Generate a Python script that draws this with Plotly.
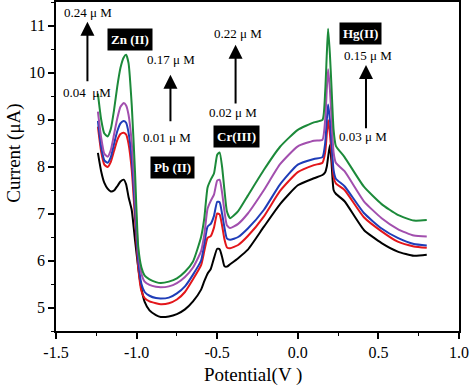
import plotly.graph_objects as go

potential = [-1.24, -1.22, -1.2, -1.18, -1.16, -1.14, -1.12, -1.1, -1.08, -1.065,
             -1.05, -1.03, -1.01, -0.99, -0.97, -0.95, -0.92, -0.88, -0.85, -0.8,
             -0.75, -0.7, -0.65, -0.6, -0.58, -0.56, -0.54, -0.52, -0.5, -0.485,
             -0.47, -0.455, -0.44, -0.42, -0.37, -0.31, -0.21, -0.11, 0.0, 0.1,
             0.153, 0.17, 0.18, 0.188, 0.199, 0.209, 0.222, 0.236, 0.29, 0.41,
             0.52, 0.62, 0.72, 0.8]

current_black = [8.29, 7.9, 7.65, 7.53, 7.47, 7.49, 7.58, 7.68, 7.72, 7.62,
                 7.35, 7.07, 6.44, 5.85, 5.4, 5.12, 4.94, 4.84, 4.8, 4.81,
                 4.86, 4.96, 5.13, 5.38, 5.56, 5.72, 5.82, 6.05, 6.25, 6.24,
                 6.08, 5.88, 5.87, 5.92, 6.05, 6.23, 6.72, 7.2, 7.6, 7.75,
                 7.82, 7.88, 8.0, 8.2, 8.46, 8.1, 7.5, 7.42, 7.26, 6.65,
                 6.37, 6.19, 6.1, 6.12]

current_red = [8.85, 8.32, 8.04, 7.99, 8.1, 8.33, 8.56, 8.69, 8.72, 8.68,
               8.48, 7.92, 6.9, 5.85, 5.35, 5.2, 5.13, 5.09, 5.07, 5.09,
               5.17, 5.33, 5.6, 5.9, 6.2, 6.48, 6.52, 6.7, 7.0, 6.98,
               6.75, 6.45, 6.28, 6.26, 6.33, 6.52, 6.94, 7.48, 7.88, 8.03,
               8.08, 8.3, 8.7, 8.99, 8.7, 8.3, 7.78, 7.64, 7.5, 6.92,
               6.62, 6.4, 6.3, 6.27]

current_blue = [8.97, 8.42, 8.13, 8.08, 8.2, 8.48, 8.75, 8.92, 8.97, 8.93,
                8.72, 8.15, 7.1, 6.0, 5.5, 5.33, 5.25, 5.2, 5.19, 5.21,
                5.3, 5.45, 5.7, 6.0, 6.35, 6.72, 6.78, 6.95, 7.25, 7.24,
                7.0, 6.7, 6.47, 6.44, 6.5, 6.68, 7.08, 7.62, 8.04, 8.16,
                8.2, 8.5, 9.0, 9.32, 9.0, 8.5, 7.92, 7.74, 7.58, 7.01,
                6.68, 6.48, 6.35, 6.32]

current_purple = [9.17, 8.62, 8.27, 8.21, 8.35, 8.68, 9.02, 9.27, 9.35, 9.3,
                  9.1, 8.5, 7.4, 6.2, 5.72, 5.55, 5.48, 5.44, 5.43, 5.45,
                  5.52, 5.65, 5.85, 6.2, 6.55, 7.1, 7.27, 7.4, 7.7, 7.72,
                  7.45, 7.05, 6.75, 6.69, 6.78, 7.0, 7.5, 8.05, 8.43, 8.55,
                  8.57, 9.0, 9.65, 10.07, 9.65, 9.05, 8.3, 8.08, 7.9, 7.26,
                  6.9, 6.67, 6.53, 6.51]

current_green = [9.55, 9.0, 8.7, 8.64, 8.8, 9.2, 9.7, 10.1, 10.32, 10.38,
                 10.2, 9.3, 7.9, 6.3, 5.85, 5.68, 5.6, 5.54, 5.52, 5.55,
                 5.62, 5.76, 5.98, 6.5, 6.9, 7.55, 7.72, 7.85, 8.25, 8.3,
                 8.0, 7.5, 7.05, 6.9, 7.05, 7.38, 7.93, 8.42, 8.78, 8.94,
                 8.99, 9.6, 10.4, 10.93, 10.4, 9.7, 8.78, 8.44, 8.2, 7.57,
                 7.2, 6.97, 6.85, 6.86]

series = [
    ("black", current_black, "#000000"),
    ("red", current_red, "#e3161b"),
    ("blue", current_blue, "#1f3db8"),
    ("purple", current_purple, "#a24fae"),
    ("green", current_green, "#1c8a3a"),
]

# arrows: (x, y_start, y_end)
arrows = [(-1.305, 9.78, 11.08), (-0.79, 8.93, 9.95), (-0.386, 9.31, 10.59), (0.423, 8.78, 10.16)]
# concentration labels: (text, x, y)
conc_labels = [
    ("0.24 \u03bc M", -1.30, 11.27),
    ("0.04\u00a0\u00a0\u03bcM", -1.31, 9.58),
    ("0.17 \u03bc M", -0.784, 10.27),
    ("0.01 \u03bc M", -0.81, 8.61),
    ("0.22 \u03bc M", -0.374, 10.84),
    ("0.02 \u03bc M", -0.405, 9.15),
    ("0.15 \u03bc M", 0.435, 10.36),
    ("0.03 \u03bc M", 0.404, 8.64),
]
# metal ion boxed labels
ion_labels = [
    ("Zn (II)", -1.04, 10.71),
    ("Pb (II)", -0.778, 7.98),
    ("Cr(III)", -0.383, 8.64),
    ("Hg(II)", 0.392, 10.83),
]

FONT = "Liberation Serif, Times New Roman, serif"

fig = go.Figure()
for name, vals, col in series:
    fig.add_trace(go.Scatter(x=potential, y=vals, mode="lines", name=name,
                             line=dict(color=col, width=2, shape="spline", smoothing=0.5),
                             showlegend=False))

for x, y0, y1 in arrows:
    fig.add_annotation(x=x, y=y1, ax=x, ay=y0, xref="x", yref="y", axref="x", ayref="y",
                       text="", showarrow=True, arrowhead=2, arrowsize=1.4,
                       arrowwidth=2, arrowcolor="black", standoff=0, startstandoff=0)

for t, x, y in conc_labels:
    fig.add_annotation(x=x, y=y, text=t, showarrow=False,
                       font=dict(family=FONT, size=13, color="black"))

for t, x, y in ion_labels:
    fig.add_annotation(x=x, y=y, text="<b>" + t + "</b>", showarrow=False,
                       bgcolor="black", borderpad=3,
                       font=dict(family=FONT, size=13, color="white"))

# axis titles
fig.add_annotation(x=0.489, y=-0.134, xref="paper", yref="paper", text="Potential(V )",
                   showarrow=False, xanchor="center", yanchor="middle",
                   font=dict(family=FONT, size=19, color="black"))
fig.add_annotation(x=-0.105, y=0.541, xref="paper", yref="paper", text="Current (\u03bcA)",
                   showarrow=False, xanchor="center", yanchor="middle", textangle=-90,
                   font=dict(family=FONT, size=19, color="black"))

fig.update_layout(
    width=474, height=390,
    margin=dict(l=56, r=15, t=2, b=59, autoexpand=False),
    paper_bgcolor="white", plot_bgcolor="white",
    font=dict(family=FONT, size=16, color="black"),
    xaxis=dict(range=[-1.5, 1.0], tickvals=[-1.5, -1.0, -0.5, 0.0, 0.5, 1.0],
               ticktext=["-1.5", "-1.0", "-0.5", "0.0", "0.5", "1.0"],
               ticks="outside", ticklen=6, tickwidth=1.5, tickcolor="black",
               minor=dict(dtick=0.25, ticks="outside", ticklen=3, tickwidth=1.2, tickcolor="black"),
               showgrid=False, zeroline=False, showline=True, linecolor="black", linewidth=1.5,
               mirror=True, tickfont=dict(size=16), automargin=False),
    yaxis=dict(range=[4.5, 11.5], tickvals=[5, 6, 7, 8, 9, 10, 11],
               ticks="outside", ticklen=6, tickwidth=1.5, tickcolor="black",
               minor=dict(dtick=0.5, ticks="outside", ticklen=3, tickwidth=1.2, tickcolor="black"),
               showgrid=False, zeroline=False, showline=True, linecolor="black", linewidth=1.5,
               mirror=True, tickfont=dict(size=16), automargin=False),
)

fig.write_html("out.html", config={"displayModeBar": False},
               post_script="document.body.style.margin='0';document.body.style.overflow='hidden';")
